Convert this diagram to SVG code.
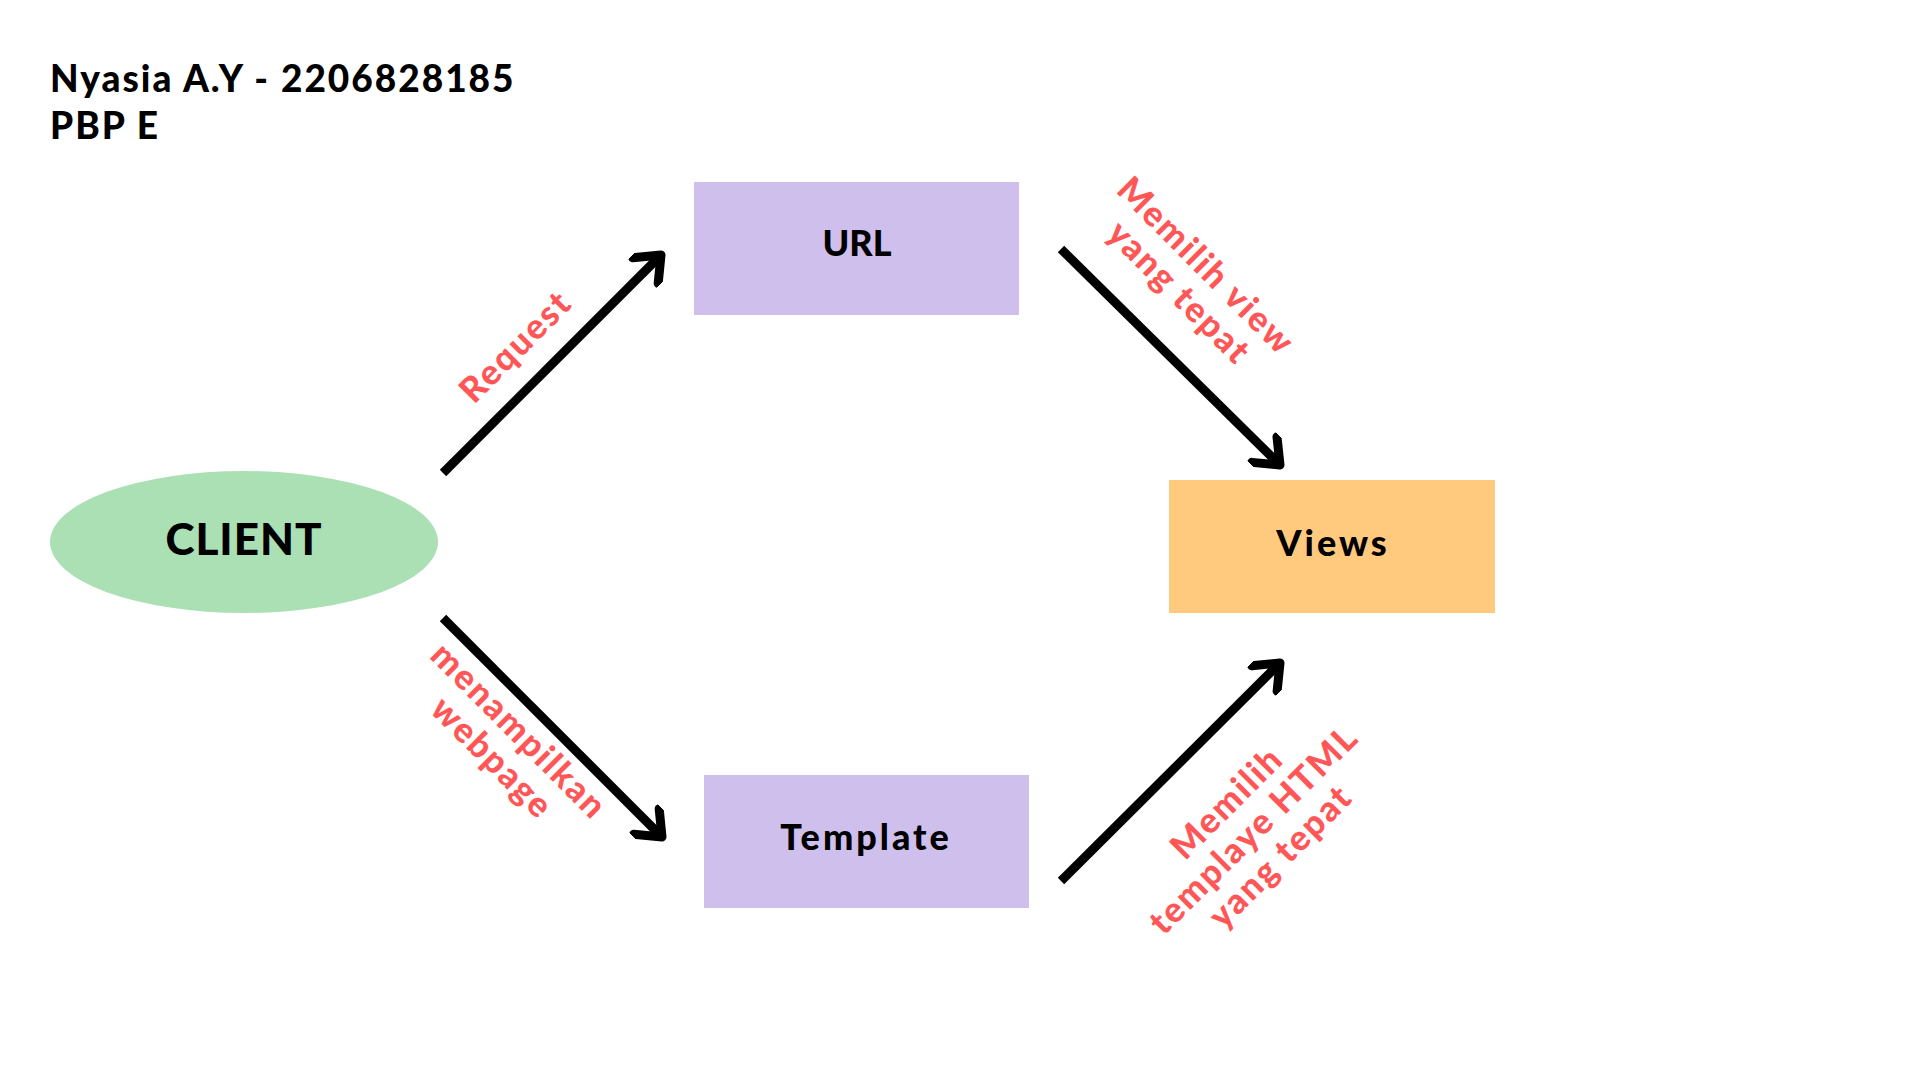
<svg xmlns="http://www.w3.org/2000/svg" width="1920" height="1080" viewBox="0 0 1920 1080">
<style>
.t{font-family:Lato,"Open Sans","Liberation Sans",sans-serif;font-weight:900;text-anchor:middle;fill:#000}
.l{font-family:Lato,"Open Sans","Liberation Sans",sans-serif;font-weight:900;text-anchor:middle;fill:#ff5757;font-size:35px;letter-spacing:2px}
.c{stroke:#000;stroke-width:9;fill:none;marker-end:url(#ah)}
</style>
<defs>
<marker id="ah" markerUnits="userSpaceOnUse" markerWidth="40" markerHeight="40" viewBox="-30 -20 40 40" refX="0" refY="0" orient="auto">
<path d="M-22,-18 L0,0 L-22,18" fill="none" stroke="#000" stroke-width="9" stroke-linecap="round" stroke-linejoin="round"/>
</marker>
</defs>
<rect width="1920" height="1080" fill="#fff"/>
<g id="title" class="t" style="text-anchor:start;font-size:37px;letter-spacing:2px">
<text x="50" y="92">Nyasia A.Y - 2206828185</text>
<text x="50" y="139">PBP E</text>
</g>
<g id="client"><ellipse cx="244" cy="542" rx="194" ry="71" fill="#abe0b5"/><text class="t" x="244" y="555" font-size="44" letter-spacing="1">CLIENT</text></g>
<g id="url"><rect x="694" y="182" width="325" height="133" fill="#cfbfed"/><text class="t" x="857" y="256" font-size="36">URL</text></g>
<g id="views"><rect x="1169" y="480" width="326" height="133" fill="#ffca7d"/><text class="t" x="1333" y="556" font-size="36" letter-spacing="3">Views</text></g>
<g id="template"><rect x="704" y="775" width="325" height="133" fill="#cfbfed"/><text class="t" x="866" y="850" font-size="36" letter-spacing="3">Template</text></g>
<g id="connectors">
<line class="c" x1="443" y1="473" x2="661" y2="255"/>
<line class="c" x1="1061" y1="249" x2="1280" y2="465"/>
<line class="c" x1="443" y1="618" x2="662" y2="837"/>
<line class="c" x1="1061" y1="881" x2="1280" y2="663"/>
</g>
<g id="labels">
<text class="l" transform="translate(517,348) rotate(-45)" x="0" y="10">Request</text>
<text class="l" transform="translate(1192,280) rotate(45)"><tspan x="0" y="-8">Memilih view</tspan><tspan x="0" y="30">yang tepat</tspan></text>
<text class="l" transform="translate(505,745) rotate(45)"><tspan x="0" y="-8">menampilkan</tspan><tspan x="0" y="30">webpage</tspan></text>
<text class="l" transform="translate(1255,831) rotate(-45)"><tspan x="0" y="-28">Memilih</tspan><tspan x="0" y="10">templaye HTML</tspan><tspan x="0" y="48">yang tepat</tspan></text>
</g>
</svg>
